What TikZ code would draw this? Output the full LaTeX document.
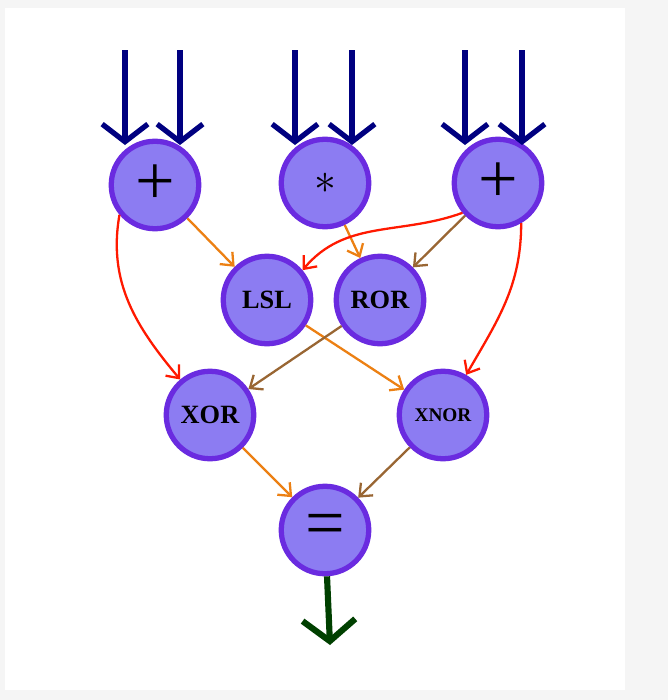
\documentclass[tikz,border=0pt]{standalone}
\usepackage{fontspec}
\setmainfont{Liberation Serif}
\usetikzlibrary{arrows.meta}
\definecolor{nfill}{HTML}{8C7CF2}
\definecolor{nborder}{HTML}{6A2BE0}
\begin{document}
\begin{tikzpicture}[x=0.02cm,y=-0.02cm,
  op/.style={circle,draw=nborder,line width=3pt,fill=nfill,minimum size=1.75cm,inner sep=0pt,font=\bfseries},
  inarr/.style={draw=blue!50!black,line width=3pt,-{Straight Barb[length=10pt,width=26pt,line width=3pt]}},
  tan/.style={draw=orange!70!brown,line width=1.3pt,-{Straight Barb[length=6pt,width=10pt]}},
  red/.style={draw=red!80!orange,line width=1.3pt,-{Straight Barb[length=6pt,width=10pt]}},
  brn/.style={draw=brown!80!black,line width=1.3pt,-{Straight Barb[length=6pt,width=10pt]}}]
\fill[gray!8] (0,0) rectangle (668,700);
\fill[white] (5,8) rectangle (625,690);
\node[op,font=\fontsize{40}{40}\selectfont] (p1) at (155,185) {+};
\node[op,font=\fontsize{75}{75}\selectfont] (m) at (325,183) {\raisebox{-12pt}{$\ast$}};
\node[op,font=\fontsize{40}{40}\selectfont] (p2) at (498,183) {+};
\node[op,font=\fontsize{15}{15}\selectfont\bfseries] (lsl) at (267,300) {LSL};
\node[op,font=\fontsize{15}{15}\selectfont\bfseries] (ror) at (380,300) {ROR};
\node[op,font=\fontsize{15}{15}\selectfont\bfseries] (xor) at (210,415) {XOR};
\node[op,font=\fontsize{11}{11}\selectfont\bfseries] (xnor) at (443,415) {XNOR};
\node[op,font=\fontsize{40}{40}\selectfont] (eq) at (325,530) {=};
\foreach \x/\n in {125/p1,180/p1,295/m,352/m,465/p2,522/p2}{
  \coordinate (s) at (\x,50);
  \draw[inarr] (s) -- (\x,145);}
\coordinate (o) at (330,645);
\draw[draw=green!25!black,line width=3.5pt,-{Straight Barb[length=12pt,width=30pt,line width=3.5pt]}] (eq) -- (o);
\draw[tan] (p1) -- (lsl);
\draw[red] (p1.220) to[out=-100,in=130] (xor.130);
\draw[tan] (m) -- (ror);
\draw[red] (p2.220) to[out=200,in=50] (lsl.40);
\draw[brn] (p2) -- (ror);
\draw[red] (p2.-60) to[out=-90,in=60] (xnor.60);
\draw[tan] (lsl) -- (xnor);
\draw[brn] (ror) -- (xor);
\draw[tan] (xor) -- (eq);
\draw[brn] (xnor) -- (eq);
\end{tikzpicture}
\end{document}
